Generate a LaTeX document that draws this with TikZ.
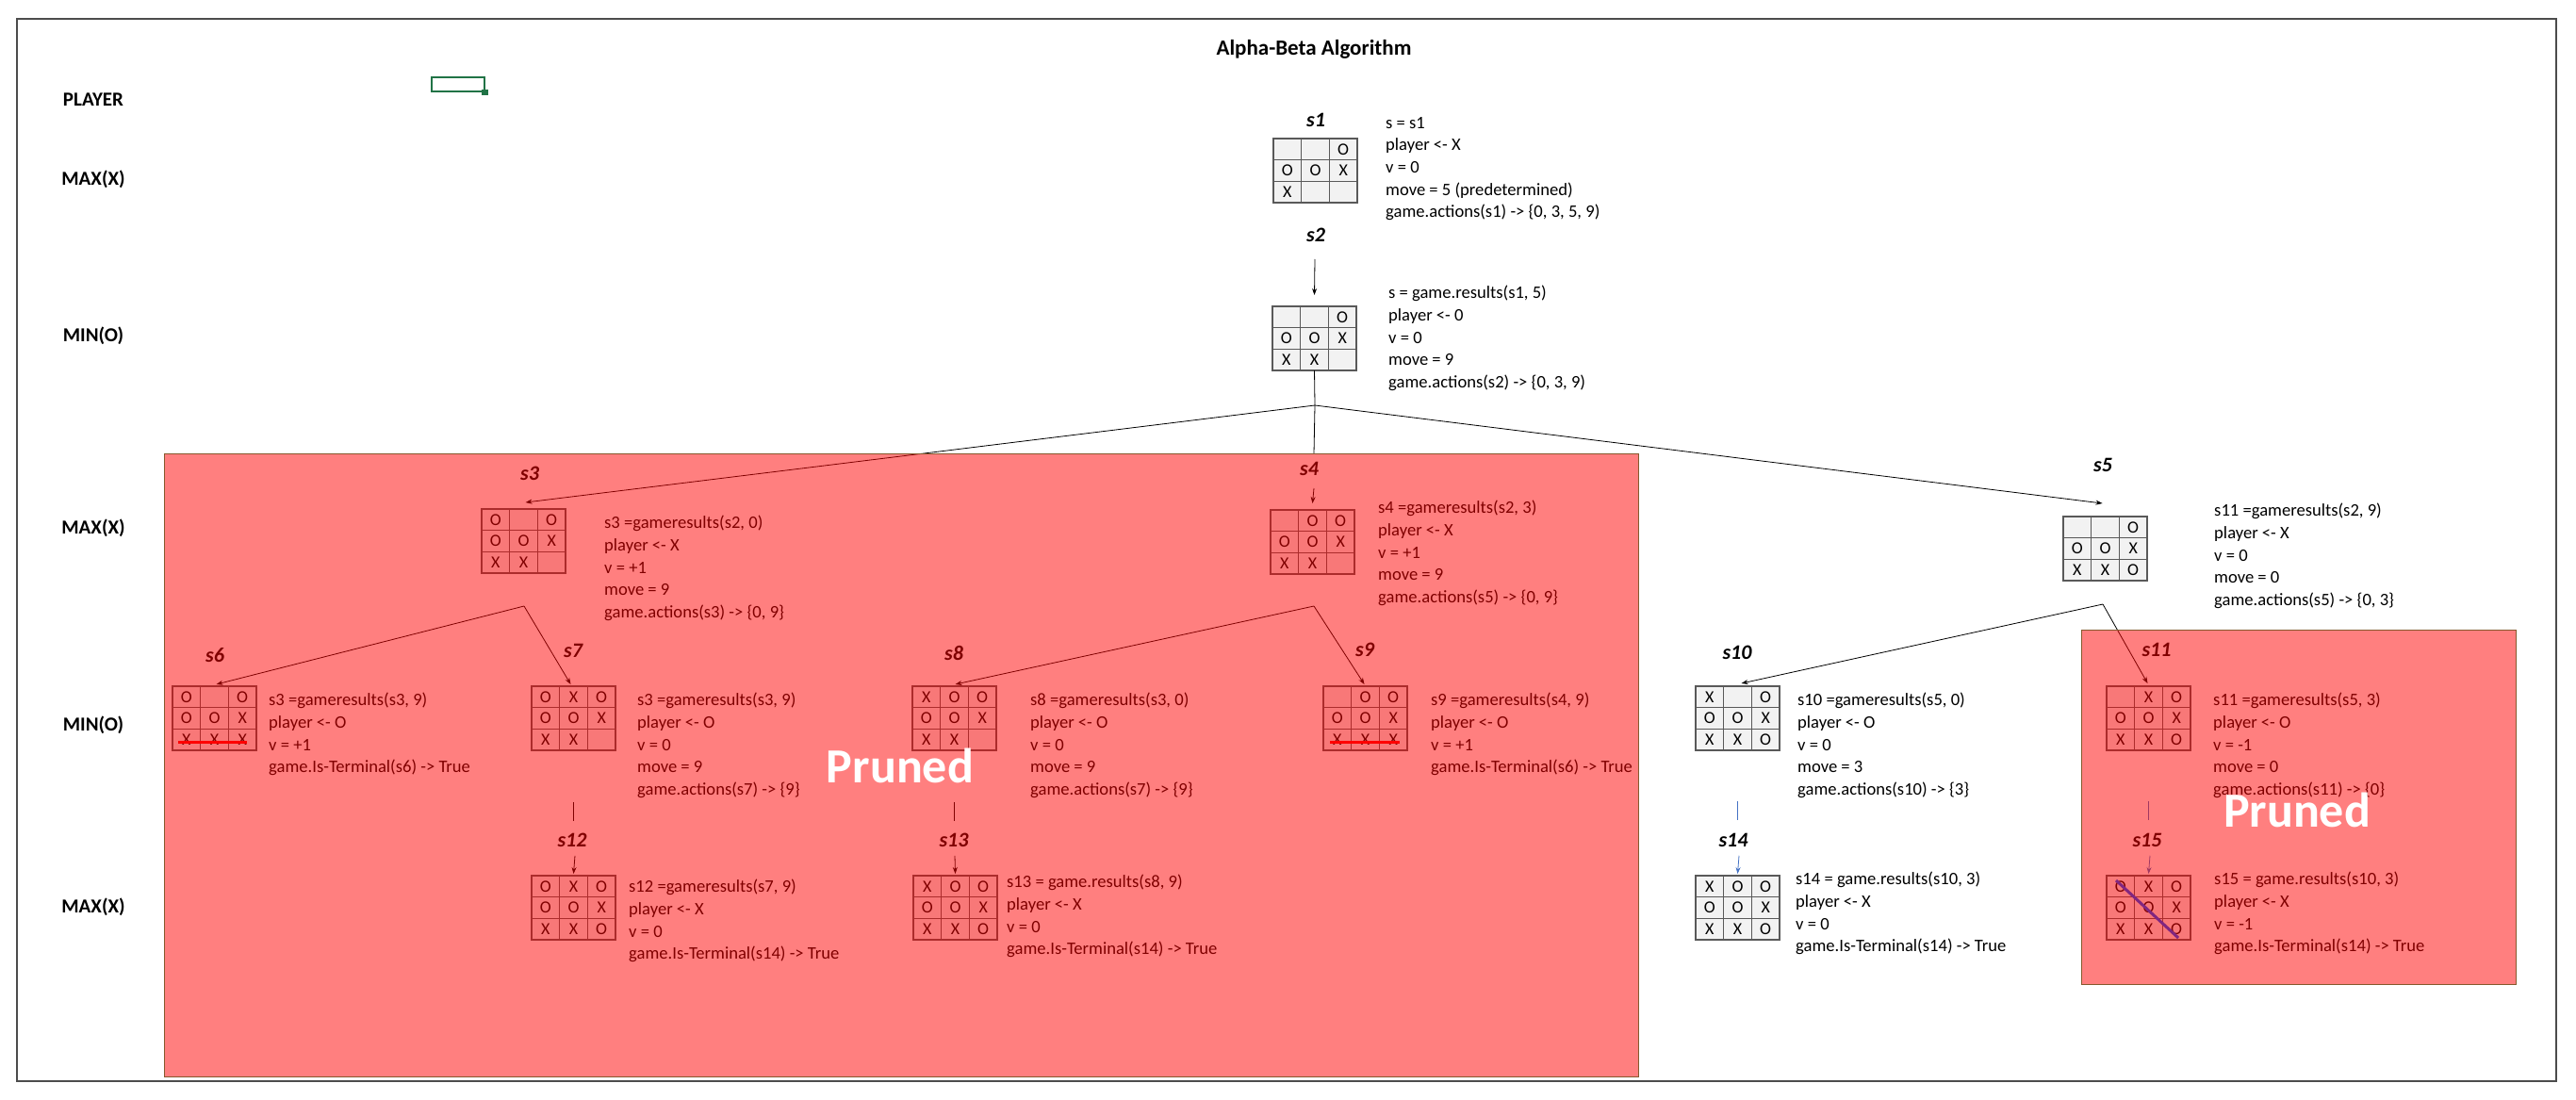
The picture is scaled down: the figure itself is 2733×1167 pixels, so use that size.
\documentclass[tikz,border=0pt]{standalone}
\usepackage{fontspec}
\setmainfont{Carlito}
\usetikzlibrary{calc,arrows.meta}
\definecolor{xlgreen}{RGB}{33,115,70}
\definecolor{bluel}{RGB}{68,114,196}
\tikzset{
  bdbox/.style={draw=gray!70!black,fill=gray!10,line width=1.2pt,minimum width=89pt,minimum height=68pt,inner sep=0pt,outer sep=0pt,anchor=north west},
  cellt/.style={font=\fontsize{18}{20}\selectfont,inner sep=0pt},
  info/.style={anchor=north west,align=left,inner sep=0pt,font=\fontsize{18.6}{23.7}\selectfont},
  slab/.style={font=\fontsize{22}{24}\selectfont\bfseries\itshape},
  rowlab/.style={font=\fontsize{21}{24}\selectfont\bfseries},
  arr/.style={-{Stealth[length=7pt,width=5pt]},line width=0.8pt},
  conn/.style={line width=0.8pt},
  pruned/.style={fill=red,fill opacity=0.5,draw=brown!70!black,draw opacity=1,line width=1pt},
  prtext/.style={text=white,font=\fontsize{52}{56}\selectfont\bfseries},
}
\newcommand\bd[3]{%
  \node[bdbox] (#1) at (#2) {};
  \draw[gray!70!black,line width=1.2pt] ($(#1.north west)+(29.67,0)$) -- ++(0,68)
     ($(#1.north west)+(59.33,0)$) -- ++(0,68)
     ($(#1.north west)+(0,22.67)$) -- ++(89,0)
     ($(#1.north west)+(0,45.33)$) -- ++(89,0);
  \foreach \c [count=\i from 0] in {#3} {
    \pgfmathtruncatemacro\rr{div(\i,3)}\pgfmathtruncatemacro\kk{mod(\i,3)}
    \node[cellt] at ($(#1.north west)+(\kk*29.67+14.83,\rr*22.67+11.33)$) {\c};
  }%
}
\begin{document}
\begin{tikzpicture}[x=1pt,y=-1pt]
\useasboundingbox (0,0) rectangle (2733,1167);
\fill[white] (0,0) rectangle (2733,1167);
\draw[line width=1.2pt,gray!60!black] (18,20) rectangle (2712,1147);
\node[font=\fontsize{23}{26}\selectfont\bfseries] (title) at (1394,52) {Alpha-Beta Algorithm};
\node[rowlab] (pl) at (99,106) {PLAYER};
\node[rowlab] (r1) at (99,190) {MAX(X)};
\node[rowlab] (r2) at (99,356) {MIN(O)};
\node[rowlab] (r3) at (99,560) {MAX(X)};
\node[rowlab] (r4) at (99,769) {MIN(O)};
\node[rowlab] (r5) at (99,962) {MAX(X)};
\draw[xlgreen,line width=2.5pt] (458,82) rectangle (514,97);
\fill[xlgreen] (511,95) rectangle (518,101);

% boards
\bd{s1}{1351,147}{{},{},O,O,O,X,X,{},{}}
\bd{s2}{1350,325}{{},{},O,O,O,X,X,X,{}}
\bd{s3}{511,540}{O,{},O,O,O,X,X,X,{}}
\bd{s4}{1348,541}{{},O,O,O,O,X,X,X,{}}
\bd{s5}{2189,548}{{},{},O,O,O,X,X,X,O}
\bd{s6}{183,728}{O,{},O,O,O,X,X,X,X}
\bd{s7}{564,728}{O,X,O,O,O,X,X,X,{}}
\bd{s8}{968,728}{X,O,O,O,O,X,X,X,{}}
\bd{s9}{1404,728}{{},O,O,O,O,X,X,X,X}
\bd{s10}{1799,728}{X,{},O,O,O,X,X,X,O}
\bd{s11}{2235,728}{{},X,O,O,O,X,X,X,O}
\bd{s12}{564,929}{O,X,O,O,O,X,X,X,O}
\bd{s13}{969,929}{X,O,O,O,O,X,X,X,O}
\bd{s14}{1799,929}{X,O,O,O,O,X,X,X,O}
\bd{s15}{2235,929}{O,X,O,O,O,X,X,X,O}

% labels
\node[slab] (l1) at (1396,127) {s1};
\node[slab] (l2) at (1396,249) {s2};
\node[slab] (l3) at (562,502) {s3};
\node[slab] (l4) at (1389,497) {s4};
\node[slab] (l5) at (2231,493) {s5};
\node[slab] (l6) at (228,695) {s6};
\node[slab] (l7) at (608,690) {s7};
\node[slab] (l8) at (1012,693) {s8};
\node[slab] (l9) at (1448,689) {s9};
\node[slab] (l10) at (1843,692) {s10};
\node[slab] (l11) at (2288,689) {s11};
\node[slab] (l12) at (607,891) {s12};
\node[slab] (l13) at (1012,891) {s13};
\node[slab] (l14) at (1839,891) {s14};
\node[slab] (l15) at (2278,891) {s15};

% info texts
\node[info] (t1) at (1470,124) {s = s1\\player <- X\\v = 0\\move = 5 (predetermined)\\game.actions(s1) -> \{0, 3, 5, 9)};
\node[info] (t2) at (1473,303) {s = game.results(s1, 5)\\player <- 0\\v = 0\\move = 9\\game.actions(s2) -> \{0, 3, 9)};
\node[info] (t3) at (641,547) {s3 =gameresults(s2, 0)\\player <- X\\v = +1\\move = 9\\game.actions(s3) -> \{0, 9\}};
\node[info] (t4) at (1462,531) {s4 =gameresults(s2, 3)\\player <- X\\v = +1\\move = 9\\game.actions(s5) -> \{0, 9\}};
\node[info] (t5) at (2349,534) {s11 =gameresults(s2, 9)\\player <- X\\v = 0\\move = 0\\game.actions(s5) -> \{0, 3\}};
\node[info] (t6) at (285,735) {s3 =gameresults(s3, 9)\\player <- O\\v = +1\\game.Is-Terminal(s6) -> True};
\node[info] (t7) at (676,735) {s3 =gameresults(s3, 9)\\player <- O\\v = 0\\move = 9\\game.actions(s7) -> \{9\}};
\node[info] (t8) at (1093,735) {s8 =gameresults(s3, 0)\\player <- O\\v = 0\\move = 9\\game.actions(s7) -> \{9\}};
\node[info] (t9) at (1518,735) {s9 =gameresults(s4, 9)\\player <- O\\v = +1\\game.Is-Terminal(s6) -> True};
\node[info] (t10) at (1907,735) {s10 =gameresults(s5, 0)\\player <- O\\v = 0\\move = 3\\game.actions(s10) -> \{3\}};
\node[info] (t11) at (2348,735) {s11 =gameresults(s5, 3)\\player <- O\\v = -1\\move = 0\\game.actions(s11) -> \{0\}};
\node[info] (t12) at (667,933) {s12 =gameresults(s7, 9)\\player <- X\\v = 0\\game.Is-Terminal(s14) -> True};
\node[info] (t13) at (1068,928) {s13 = game.results(s8, 9)\\player <- X\\v = 0\\game.Is-Terminal(s14) -> True};
\node[info] (t14) at (1905,925) {s14 = game.results(s10, 3)\\player <- X\\v = 0\\game.Is-Terminal(s14) -> True};
\node[info] (t15) at (2349,925) {s15 = game.results(s10, 3)\\player <- X\\v = -1\\game.Is-Terminal(s14) -> True};

% connectors
\coordinate (a2) at (1395,430);
\coordinate (a3) at (556,643);
\coordinate (a4) at (1394,643);
\coordinate (a5) at (2231,641);
\coordinate (c4) at (1394,481);
\draw[arr] (1395,275) -- ($(s2.north)+(0,-12)$);
\draw[conn] (s2.south) -- (a2);
\draw[arr] (a2) -- ($(s3.north)+(2,-7)$);
\draw[conn] (a2) -- (c4);
\draw[arr] (1394,518) -- ($(s4.north)+(0,-7)$);
\draw[arr] (a2) -- ($(s5.north)+(-3,-14)$);
\draw[arr] (a3) -- ($(s6.north)+(2,-2)$);
\draw[arr] (a3) -- ($(s7.north)+(-3,-2)$);
\draw[arr] (a4) -- ($(s8.north)+(1,-2)$);
\draw[arr] (a4) -- ($(s9.north)+(-1,-2)$);
\draw[arr] (a5) -- ($(s10.north)+(4,-3)$);
\draw[arr] (a5) -- ($(s11.north)+(-1,-3)$);
\draw[conn] ($(s7.south)+(0,55)$) -- ++(0,20);
\draw[arr] ($(l12.south)+(3,6)$) -- ($(s12.north)+(0,-2)$);
\draw[conn] ($(s8.south)+(0,55)$) -- ++(0,20);
\draw[arr] ($(l13.south)+(1,6)$) -- ($(s13.north)+(0,-2)$);
\draw[conn,bluel] ($(s10.south)+(0,54)$) -- ++(0,20);
\draw[arr,bluel] ($(l14.south)+(6,6)$) -- ($(s14.north)+(0,-2)$);
\draw[conn,bluel] ($(s11.south)+(0,54)$) -- ++(0,20);
\draw[arr,bluel] ($(l15.south)+(3,6)$) -- ($(s15.north)+(0,-2)$);

% pruned overlays
\draw[pruned] (174,481) rectangle (1738,1142);
\draw[pruned] (2208,668) rectangle (2669,1044);
\node[prtext] (p1) at (955,812) {Pruned};
\node[prtext] (p2) at (2437,859) {Pruned};
\draw[red,line width=3pt] (189,787) -- (262,787);
\draw[red,line width=3pt] (1411,787) -- (1485,787);
\draw[violet!70!gray,line width=3pt] (2245,934) -- (2311,995);
\end{tikzpicture}
\end{document}
